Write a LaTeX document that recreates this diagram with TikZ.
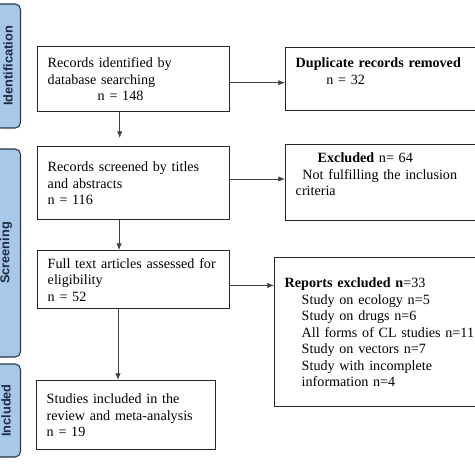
\documentclass[tikz,border=0pt]{standalone}
\usepackage{fontspec}
\setmainfont{Liberation Serif}
\setsansfont{Liberation Sans}
\usetikzlibrary{arrows.meta}

\definecolor{barfill}{RGB}{168,200,234}
\definecolor{barline}{RGB}{40,52,72}
\definecolor{bartext}{RGB}{30,42,64}

\tikzset{
  box/.style={draw=black!85, line width=1.1pt, anchor=north west,
    align=left, inner xsep=7.5pt, inner ysep=0pt,
    font=\fontsize{10.6}{12.4}\selectfont},
  phase/.style={draw=barline, fill=barfill, line width=0.8pt,
    rounded corners=4pt, rotate=90, text=bartext,
    font=\sffamily\bfseries\fontsize{9.6}{12}\selectfont},
  arrow/.style={-{Latex[length=5pt,width=4pt]}, draw=black!75, line width=0.6pt},
}

\begin{document}
\begin{tikzpicture}[x=0.75pt, y=-0.75pt]
    \useasboundingbox (0,0) rectangle (474,474);
    % phase bars
    \node[phase, minimum width=93pt, minimum height=18.75pt] (identbar) at (8,66) {Identification};
    \node[phase, minimum width=156pt, minimum height=21.75pt] (screenbar) at (6,253) {Screening};
    \node[phase, minimum width=69.75pt, minimum height=21.75pt] (inclbar) at (6,410.5) {Included};

    % main column
    \node[box, text width=129pt, minimum width=144pt, minimum height=48.75pt] (ident) at (37,46)
      {Records identified by\\database searching\\\hspace*{37.5pt}n = 148};
    \node[box, text width=129pt, minimum width=144pt, minimum height=54.75pt] (screened) at (37,146)
      {Records screened by titles\\and abstracts\\n = 116};
    \node[box, text width=129pt, minimum width=144pt, minimum height=43.5pt] (full) at (37,250)
      {Full text articles assessed for\\eligibility\\n = 52};
    \node[box, text width=119.25pt, minimum width=134.25pt, minimum height=51.75pt] (studies) at (36,380)
      {Studies included in the\\review and meta-analysis\\n = 19};

    % exclusions
    \node[box, text width=146.25pt, minimum width=161.25pt, minimum height=47.25pt] (dup) at (285,47)
      {\textbf{Duplicate records removed}\\\hspace*{23pt}n = 32\\\mbox{}};
    \node[box, text width=146.25pt, minimum width=161.25pt, minimum height=57pt] (excl) at (285,144)
      {\hspace*{16.5pt}\textbf{Excluded} n= 64\\\hspace*{5pt}Not fulfilling the inclusion\\criteria\\\mbox{}};
    \node[box, text width=154.5pt, minimum width=169.5pt, minimum height=111.75pt] (reports) at (274,257)
      {\textbf{Reports excluded n}=33\\
       \hspace*{12.75pt}Study on ecology n=5\\
       \hspace*{12.75pt}Study on drugs n=6\\
       \hspace*{12.75pt}All forms of CL studies n=11\\
       \hspace*{12.75pt}Study on vectors n=7\\
       \hspace*{12.75pt}Study with incomplete\\
       \hspace*{12.75pt}information n=4};

    % arrows down
    \draw[arrow, shorten >=6pt] ([xshift=-10.5pt]ident.south) -- ([xshift=-10.5pt]ident.south |- screened.north);
    \draw[arrow] ([xshift=-11pt]screened.south) -- ([xshift=-11pt]screened.south |- full.north);
    \draw[arrow] ([xshift=-11.8pt]full.south) -- ([xshift=-11.8pt]full.south |- studies.north);
    % arrows right
    \draw[arrow] ([yshift=-2.6pt]ident.east) -- ([yshift=-2.6pt]ident.east -| dup.west);
    \draw[arrow] ([yshift=3.2pt]screened.east) -- ([yshift=3.2pt]screened.east -| excl.west);
    \draw[arrow] ([yshift=-4.3pt]full.east) -- ([yshift=-4.3pt]full.east -| reports.west);
\end{tikzpicture}
\end{document}
